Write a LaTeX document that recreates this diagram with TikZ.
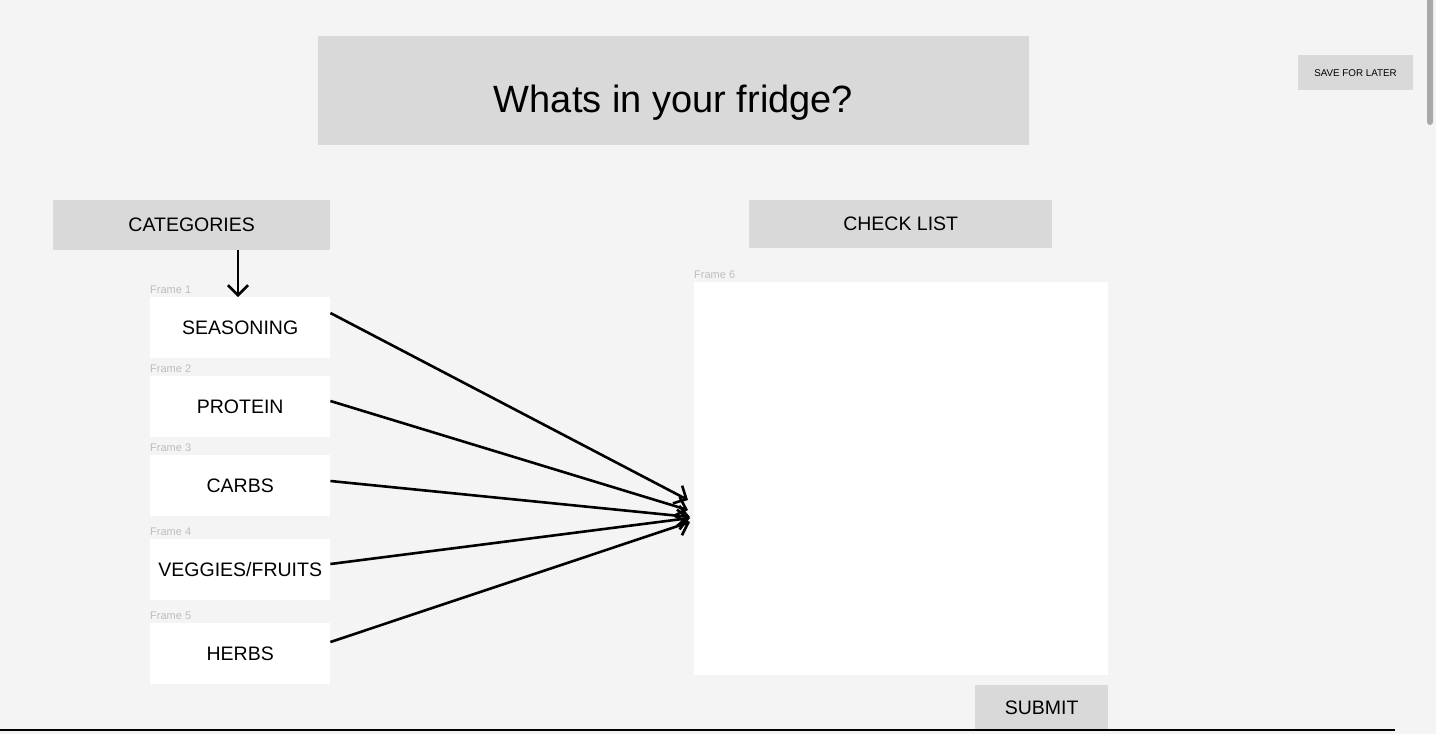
\documentclass[tikz,border=0pt]{standalone}
\usepackage{fontspec}
\setmainfont{Liberation Sans}
\usetikzlibrary{arrows.meta}
\definecolor{bg}{HTML}{F4F4F4}
\definecolor{boxgray}{HTML}{D9D9D9}
\definecolor{lbl}{HTML}{BDBDBD}
\definecolor{scroll}{HTML}{A8A8A8}
\begin{document}
\begin{tikzpicture}[x=1pt,y=-1pt,
  graybox/.style={fill=boxgray,draw=none,inner sep=0pt},
  whitebox/.style={fill=white,draw=none,inner sep=0pt},
  framelbl/.style={text=lbl,font=\fontsize{11}{13}\selectfont,anchor=base west,inner sep=0pt},
  conn/.style={line width=2.6pt,-{Straight Barb[length=10pt,width=20pt,line width=2.6pt]}},
  btntext/.style={font=\fontsize{19.5}{22}\selectfont}]
\useasboundingbox (0,0) rectangle (1436,734);
\fill[bg] (0,0) rectangle (1436,734);
% title
\node[graybox,minimum width=711pt,minimum height=109pt,anchor=north west] (title) at (318,36) {};
\node[font=\fontsize{38}{42}\selectfont] (titletext) at (673.5,103) {Whats in your fridge?};
% save for later
\node[graybox,minimum width=115pt,minimum height=35pt,anchor=north west] (save) at (1298,55) {};
\node[font=\fontsize{9.8}{11}\selectfont] (savetext) at (1355.5,73) {SAVE FOR LATER};
% scrollbar
\fill[scroll,rounded corners=3pt] (1427,-5) rectangle (1433,125);
% categories and checklist headers
\node[graybox,minimum width=277pt,minimum height=50pt,anchor=north west,btntext] (cat) at (53,200) {CATEGORIES};
\node[graybox,minimum width=303pt,minimum height=48pt,anchor=north west,btntext] (check) at (749,200) {CHECK LIST};
% frame 6
\node[framelbl] (f6l) at (694,278) {Frame 6};
\node[whitebox,minimum width=414pt,minimum height=393pt,anchor=north west] (f6) at (694,282) {};
% frames 1-5
\node[framelbl] (f1l) at (150,293) {Frame 1};
\node[whitebox,minimum width=180pt,minimum height=61pt,anchor=north west,btntext] (f1) at (150,297) {SEASONING};
\node[framelbl] (f2l) at (150,372) {Frame 2};
\node[whitebox,minimum width=180pt,minimum height=61pt,anchor=north west,btntext] (f2) at (150,376) {PROTEIN};
\node[framelbl] (f3l) at (150,451) {Frame 3};
\node[whitebox,minimum width=180pt,minimum height=61pt,anchor=north west,btntext] (f3) at (150,455) {CARBS};
\node[framelbl] (f4l) at (150,535) {Frame 4};
\node[whitebox,minimum width=180pt,minimum height=61pt,anchor=north west,btntext] (f4) at (150,539) {VEGGIES/FRUITS};
\node[framelbl] (f5l) at (150,619) {Frame 5};
\node[whitebox,minimum width=180pt,minimum height=61pt,anchor=north west,btntext] (f5) at (150,623) {HERBS};
% submit
\node[graybox,minimum width=133pt,minimum height=46pt,anchor=north west,btntext] (submit) at (975,685) {SUBMIT};
% bottom line
\coordinate (la) at (0,730);
\coordinate (lb) at (1395,730);
\draw[line width=2pt] (la) -- (lb);
% arrows
\coordinate (t1) at (688,500);
\coordinate (t2) at (688,510);
\coordinate (t3) at (690,517);
\coordinate (t4) at (690,518);
\coordinate (t5) at (690,522);
\draw[conn] (cat.south -| 238,0) -- (238,297);
\draw[conn] (f1.east |- 0,313) -- (t1);
\draw[conn] (f2.east |- 0,401) -- (t2);
\draw[conn] (f3.east |- 0,481) -- (t3);
\draw[conn] (f4.east |- 0,564) -- (t4);
\draw[conn] (f5.east |- 0,642) -- (t5);
\end{tikzpicture}
\end{document}
